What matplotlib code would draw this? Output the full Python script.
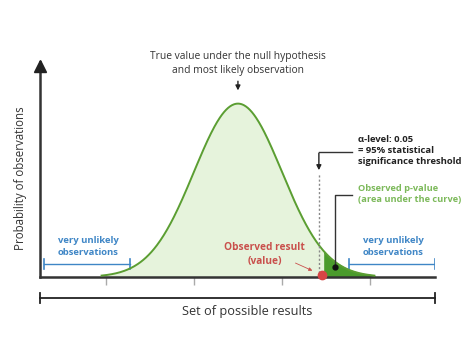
import numpy as np
import matplotlib.pyplot as plt

plt.rcParams['font.family'] = ['Open Sans', 'DejaVu Sans']

# conceptual null distribution (standard normal, in sigma units)
mean = 0.0
sd = 1.0
curve_lo, curve_hi = -3.1, 3.1
threshold = 1.84      # alpha-level line
observed = 1.96       # observed result
tick_pos = [-3, -1, 1, 3]
left_range = [-4.41, -2.45]
right_range = [2.52, 4.48]

x = np.linspace(curve_lo, curve_hi, 400)
y = np.exp(-0.5 * ((x - mean) / sd) ** 2)

W, H = 474, 355
fig = plt.figure(figsize=(W / 100, H / 100), dpi=100)
ax = fig.add_axes([40 / W, 1 - 277 / H, 395 / W, 215 / H])
ax.set_xlim(-4.5, 4.48)
ax.set_ylim(0, 1.24)
for s in ['top', 'right']:
    ax.spines[s].set_visible(False)
for s in ['left', 'bottom']:
    ax.spines[s].set_color('#333333')
    ax.spines[s].set_linewidth(1.8)
ax.set_yticks([])
ax.set_xticks(tick_pos)
ax.set_xticklabels([])
ax.tick_params(axis='x', length=6, width=1, color='#aaaaaa', direction='out')

line_green = '#5b9e32'
ax.fill_between(x, y, color='#e6f3dc', zorder=1)
tail = x >= observed
ax.fill_between(x[tail], y[tail], color='#4a9b2c', zorder=2)
ax.plot(x, y, color=line_green, lw=1.4, zorder=3)

# y axis arrow head
ax.plot([-4.5], [1.215], marker='^', ms=8, color='#222222', clip_on=False, zorder=5)

# top annotation
ax.text(0, 1.16, 'True value under the null hypothesis\nand most likely observation',
        ha='center', va='bottom', fontsize=7.4, color='#333333', linespacing=1.3)
ax.annotate('', xy=(0, 1.06), xytext=(0, 1.145),
            arrowprops=dict(arrowstyle='-|>', color='#222222', lw=1, mutation_scale=7))

# alpha threshold
ax.plot([threshold, threshold], [0, 0.6], ls=(0, (1.5, 1.5)), color='#888888', lw=1, zorder=4)
ax.plot([threshold, 2.6], [0.72, 0.72], color='#333333', lw=1)
ax.annotate('', xy=(threshold, 0.6), xytext=(threshold, 0.73),
            arrowprops=dict(arrowstyle='-|>', color='#222222', lw=1, mutation_scale=7))
ax.text(2.73, 0.728, 'α-level: 0.05\n= 95% statistical\nsignificance threshold',
        ha='left', va='center', fontsize=6.8, fontweight='bold', color='#222222', linespacing=1.3)

# p-value annotation
pv_x = 2.2
pv_y = 0.058
ax.plot([pv_x], [pv_y], 'o', color='#111111', ms=3.5, zorder=5)
ax.plot([pv_x, pv_x, 2.6], [pv_y, 0.474, 0.474], color='#333333', lw=1, zorder=4)
ax.text(2.73, 0.48, 'Observed p-value\n(area under the curve)',
        ha='left', va='center', fontsize=6.7, fontweight='bold', color='#7cb95a', linespacing=1.3)

# observed result
ax.plot([observed - 0.05], [0.01], 'o', color='#d64545', ms=6, clip_on=False, zorder=6)
ax.text(0.61, 0.13, 'Observed result\n(value)', ha='center', va='center',
        fontsize=7.3, fontweight='bold', color='#c9504c', linespacing=1.35)
ax.annotate('', xy=(1.75, 0.03), xytext=(1.25, 0.087),
            arrowprops=dict(arrowstyle='-|>', color='#c9504c', lw=0.6, mutation_scale=5))

# very unlikely observations ranges
blue = '#3f86c6'
for lo, hi in [left_range, right_range]:
    yb = 0.075
    ax.plot([lo, hi], [yb, yb], color=blue, lw=1)
    ax.plot([lo, lo], [yb - 0.03, yb + 0.03], color=blue, lw=1.2)
    ax.plot([hi, hi], [yb - 0.03, yb + 0.03], color=blue, lw=1.2)
    ax.text((lo + hi) / 2 + 0.03, 0.176, 'very unlikely\nobservations', ha='center', va='center',
            fontsize=6.8, fontweight='bold', color=blue, linespacing=1.3)

# set of possible results bracket
yb = -0.12
ax.plot([-4.5, 4.48], [yb, yb], color='#222222', lw=1.3, clip_on=False)
for xe in [-4.5, 4.48]:
    ax.plot([xe, xe], [yb - 0.03, yb + 0.03], color='#222222', lw=1.3, clip_on=False)
ax.text(0.2, -0.2, 'Set of possible results', ha='center', va='center',
        fontsize=9.2, color='#333333')
ax.text(-4.95, 0.57, 'Probability of observations', rotation=90, ha='center', va='center',
        fontsize=8.3, color='#333333')

fig.savefig('out.png', dpi=100)
